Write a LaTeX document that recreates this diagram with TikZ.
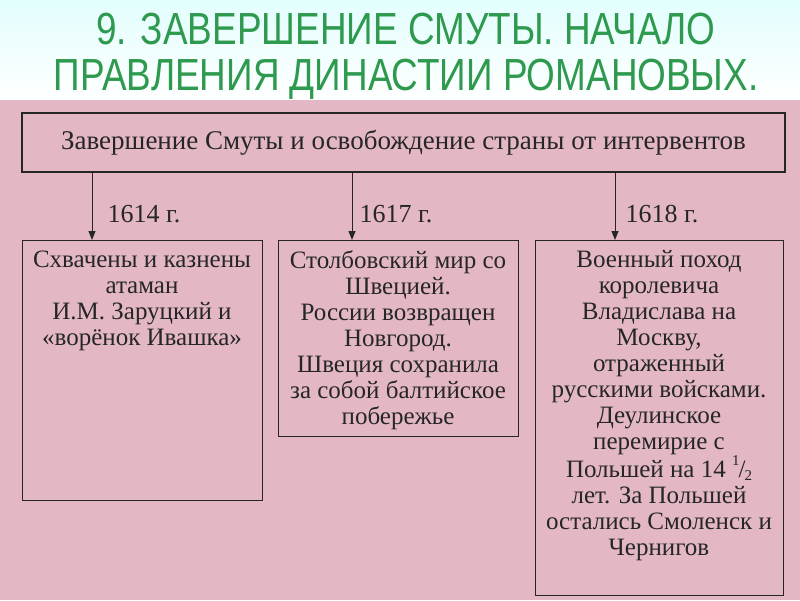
\documentclass[tikz,border=0pt]{standalone}
\usepackage{fontspec}
\setmainfont{Liberation Serif}
\newfontfamily\titlefont{Liberation Sans}
\usetikzlibrary{arrows.meta}
\definecolor{pinkbg}{HTML}{E3B8C4}
\definecolor{titlegreen}{HTML}{2E9A4E}
\definecolor{topbg}{HTML}{EAF6F8}
\tikzset{
  box/.style={draw=black!85,line width=1.2pt,fill=pinkbg,inner sep=0pt},
  txt/.style={font=\fontsize{25}{26}\selectfont,text=black!85,align=center},
  arr/.style={-{Triangle[length=9pt,width=7pt]},line width=1pt,black!85},
  yr/.style={font=\fontsize{26}{26}\selectfont,text=black!85,anchor=west}
}
\newcommand{\hfr}{\raisebox{0.45em}{\fontsize{15}{15}\selectfont 1}\kern-1pt/\kern-1pt\raisebox{-0.15em}{\fontsize{15}{15}\selectfont 2}}
\begin{document}
\begin{tikzpicture}[x=1pt,y=-1pt]
\useasboundingbox (0,0) rectangle (800,600);
\shade[top color=topbg!60!cyan!25,bottom color=white] (0,0) rectangle (800,100);
\fill[pinkbg] (0,100) rectangle (800,600);
\node[text=titlegreen,font=\titlefont\fontsize{45}{46}\selectfont,align=center] (title) at (406,56)
  {\scalebox{0.82}[1]{9. ЗАВЕРШЕНИЕ СМУТЫ. НАЧАЛО}\\\scalebox{0.82}[1]{ПРАВЛЕНИЯ ДИНАСТИИ РОМАНОВЫХ.}};
\node[box,minimum width=763pt,minimum height=59pt] (top) at (403.5,142.5) {};
\node[txt,font=\fontsize{27}{27}\selectfont] at (top) {Завершение Смуты и освобождение страны от интервентов};
\node[box,minimum width=240pt,minimum height=260pt,anchor=north west] (b1) at (22,240) {};
\node[box,minimum width=240pt,minimum height=196pt,anchor=north west] (b2) at (278,240) {};
\node[box,minimum width=248pt,minimum height=355pt,anchor=north west] (b3) at (535,240) {};
\node[txt,anchor=north] (t1) at (142,247) {Схвачены и казнены\\атаман\\И.М. Заруцкий и\\«ворёнок Ивашка»};
\node[txt,anchor=north] (t2) at (398,247) {Столбовский мир со\\Швецией.\\России возвращен\\Новгород.\\Швеция сохранила\\за собой балтийское\\побережье};
\node[txt,anchor=north] (t3) at (659,247) {Военный поход\\королевича\\Владислава на\\Москву,\\отраженный\\русскими войсками.\\Деулинское\\перемирие с\\Польшей на 14 \hfr\\лет. За Польшей\\остались Смоленск и\\Чернигов};
\coordinate (a1) at (92,172.6);
\coordinate (a2) at (352,172.6);
\coordinate (a3) at (615,172.6);
\draw[arr] (a1) -- (a1|-b1.north);
\draw[arr] (a2) -- (a2|-b2.north);
\draw[arr] (a3) -- (a3|-b3.north);
\node[yr] (y1) at (104,214) {1614 г.};
\node[yr] (y2) at (356,214) {1617 г.};
\node[yr] (y3) at (622,214) {1618 г.};
\end{tikzpicture}
\end{document}
